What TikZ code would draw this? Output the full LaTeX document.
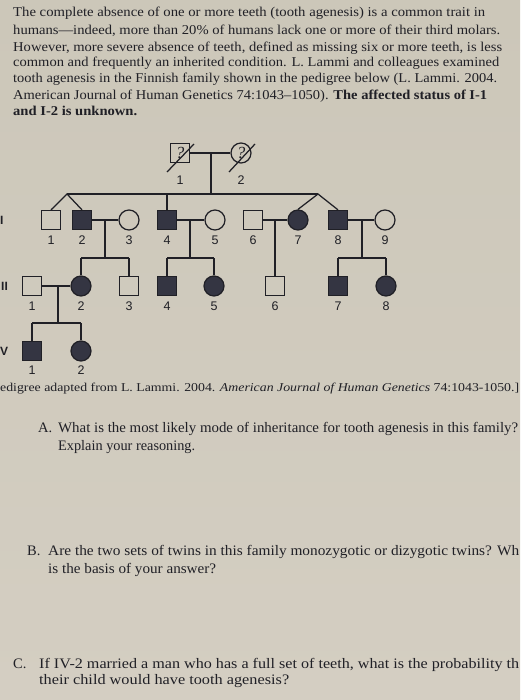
\documentclass[tikz,border=0pt]{standalone}
\usepackage{graphicx}
\usepackage{fontspec}
\setmainfont{Liberation Serif}
\setsansfont{Liberation Sans}
\definecolor{paper}{RGB}{204,199,185}
\definecolor{paperb}{RGB}{212,206,194}
\definecolor{ink}{RGB}{32,32,38}
\definecolor{aff}{RGB}{52,53,66}
\newsavebox\fitbox
\newcommand\fitline[2]{\sbox\fitbox{#2}\scalebox{\fpeval{#1/(\the\wd\fitbox)}}[1]{\usebox\fitbox}}
\begin{document}
\begin{tikzpicture}[x=1pt,y=-1pt,
  m/.style={draw=ink, line width=1.25pt, rectangle, minimum size=19pt, inner sep=0pt},
  f/.style={draw=ink, line width=1.25pt, circle, minimum size=20pt, inner sep=0pt},
  af/.style={fill=aff},
  ln/.style={draw=ink, line width=1.25pt},
  num/.style={font=\sffamily\fontsize{12.5}{13}\selectfont, text=ink, inner sep=0pt},
  gen/.style={font=\sffamily\bfseries\fontsize{12}{12}\selectfont, text=ink, inner sep=0pt},
  para/.style={anchor=base west, inner sep=0pt, text=ink, font=\fontsize{13.5}{15}\selectfont},
  ques/.style={anchor=base west, inner sep=0pt, text=ink, font=\fontsize{14.5}{16}\selectfont},
  capt/.style={anchor=base west, inner sep=0pt, text=ink, font=\fontsize{12}{13}\selectfont},
  qm/.style={font=\fontsize{17}{17}\selectfont\itshape, text=ink}
]
\shade[top color=paper, bottom color=paperb] (0,0) rectangle (520,700);
\useasboundingbox (0,0) rectangle (520,700);

% paragraph
\node[para] (p1) at (13,17) {\fitline{472}{The complete absence of one or more teeth (tooth agenesis) is a common trait in}};
\node[para] (p2) at (13,35) {\fitline{487}{humans---indeed, more than 20\% of humans lack one or more of their third molars.}};
\node[para] (p3) at (13,52) {\fitline{489}{However, more severe absence of teeth, defined as missing six or more teeth, is less}};
\node[para] (p4) at (13,67) {\fitline{486}{common and frequently an inherited condition. L. Lammi and colleagues examined}};
\node[para] (p5) at (13,83) {\fitline{484}{tooth agenesis in the Finnish family shown in the pedigree below (L. Lammi. 2004.}};
\node[para] (p6) at (13,100) {\fitline{474}{American Journal of Human Genetics 74:1043--1050). \textbf{The affected status of I-1}}};
\node[para] (p7) at (13,116) {\fitline{124}{\textbf{and I-2 is unknown.}}};

% generation I
\node[m] (I1) at (180,153) {};
\node[qm] (q1) at (180,153) {?};
\node[f] (I2) at (241,153) {};
\node[qm] (q2) at (241,153) {?};
\draw[ln] ([shift={(-13,19)}]I1.center) -- ([shift={(14,-9)}]I1.center);
\draw[ln] ([shift={(-12,19)}]I2.center) -- ([shift={(14,-9)}]I2.center);
\node[num] (lI1) at (180,180) {1};
\node[num] (lI2) at (241,180) {2};

% generation II
\node[m] (II1) at (51,220) {};
\node[m,af] (II2) at (82,220) {};
\node[f] (II3) at (129,220) {};
\node[m,af] (II4) at (167,220) {};
\node[f] (II5) at (215,220) {};
\node[m] (II6) at (253,220) {};
\node[f,af] (II7) at (298,220) {};
\node[m,af] (II8) at (338,220) {};
\node[f] (II9) at (385,220) {};
\foreach \n/\x in {1/51,2/82,3/129,4/167,5/215,6/253,7/298,8/338,9/385}
  \node[num] (lII\n) at (\x,240) {\n};

% generation III
\node[m] (III1) at (32,286) {};
\node[f,af] (III2) at (81,286) {};
\node[m] (III3) at (129,286) {};
\node[m,af] (III4) at (167,286) {};
\node[f,af] (III5) at (214,286) {};
\node[m] (III6) at (275,286) {};
\node[m,af] (III7) at (338,286) {};
\node[f,af] (III8) at (386,286) {};
\foreach \n/\x in {1/32,2/81,3/129,4/167,5/214,6/275,7/338,8/386}
  \node[num] (lIII\n) at (\x,306) {\n};

% generation IV
\node[m,af] (IV1) at (32,351) {};
\node[f,af] (IV2) at (81,351) {};
\node[num] (lIV1) at (32,370) {1};
\node[num] (lIV2) at (81,370) {2};

% generation labels (as far as the page edge shows them)
\node[gen, anchor=west] (gII) at (0,220) {I};
\node[gen, anchor=west] (gIII) at (1,286) {II};
\node[gen, anchor=west] (gIV) at (0,351) {V};

% connectors generation I -> II
\draw[ln] (I1.east) -- (I2.west);
\coordinate (mI) at (211,153);
\coordinate (dI) at (211,194);
\coordinate (sL) at (67,194);
\coordinate (sR) at (318,194);
\draw[ln] (mI) -- (dI);
\draw[ln] (sL) -- (sR);
\draw[ln] (II1.north) -- (sL) -- (II2.north);
\draw[ln] (II4.north) -- (II4.north |- sL);
\draw[ln] (II7.north) -- (sR) -- (II8.north);

% II-2 x II-3
\draw[ln] (II2.east) -- (II3.west);
\coordinate (m23) at (105,220);
\coordinate (s23) at (105,258);
\draw[ln] (m23) -- (s23);
\draw[ln] (III2.north |- s23) -- (III3.north |- s23);
\draw[ln] (III2.north |- s23) -- (III2.north);
\draw[ln] (III3.north |- s23) -- (III3.north);

% II-4 x II-5
\draw[ln] (II4.east) -- (II5.west);
\coordinate (m45) at (190,220);
\coordinate (s45) at (190,258);
\draw[ln] (m45) -- (s45);
\draw[ln] (III4.north |- s45) -- (III5.north |- s45);
\draw[ln] (III4.north |- s45) -- (III4.north);
\draw[ln] (III5.north |- s45) -- (III5.north);

% II-6 x II-7
\draw[ln] (II6.east) -- (II7.west);
\draw[ln] (III6.north |- II6.center) -- (III6.north);

% II-8 x II-9
\draw[ln] (II8.east) -- (II9.west);
\coordinate (m89) at (362,220);
\coordinate (s89) at (362,258);
\draw[ln] (m89) -- (s89);
\draw[ln] (III7.north |- s89) -- (III8.north |- s89);
\draw[ln] (III7.north |- s89) -- (III7.north);
\draw[ln] (III8.north |- s89) -- (III8.north);

% III-1 x III-2
\draw[ln] (III1.east) -- (III2.west);
\coordinate (m12) at (58,286);
\coordinate (s12) at (58,323);
\draw[ln] (m12) -- (s12);
\draw[ln] (IV1.north |- s12) -- (IV2.north |- s12);
\draw[ln] (IV1.north |- s12) -- (IV1.north);
\draw[ln] (IV2.north |- s12) -- (IV2.north);

% caption
\node[capt] (cap) at (0,391) {\fitline{519}{edigree adapted from L. Lammi. 2004. \textit{American Journal of Human Genetics} 74:1043-1050.]}};

% questions
\node[ques] (qA) at (38,432) {A.};
\node[ques] (qA1) at (58,432) {\fitline{460}{What is the most likely mode of inheritance for tooth agenesis in this family?}};
\node[ques] (qA2) at (58,450) {\fitline{137}{Explain your reasoning.}};
\node[ques] (qB) at (27,555) {B.};
\node[ques] (qB1) at (48,555) {\fitline{471}{Are the two sets of twins in this family monozygotic or dizygotic twins? Wh}};
\node[ques] (qB2) at (48,573) {\fitline{168}{is the basis of your answer?}};
\node[ques] (qC) at (13,668) {C.};
\node[ques] (qC1) at (39,668) {\fitline{480}{If IV-2 married a man who has a full set of teeth, what is the probability th}};
\node[ques] (qC2) at (39,684) {\fitline{250}{their child would have tooth agenesis?}};
\end{tikzpicture}
\end{document}
